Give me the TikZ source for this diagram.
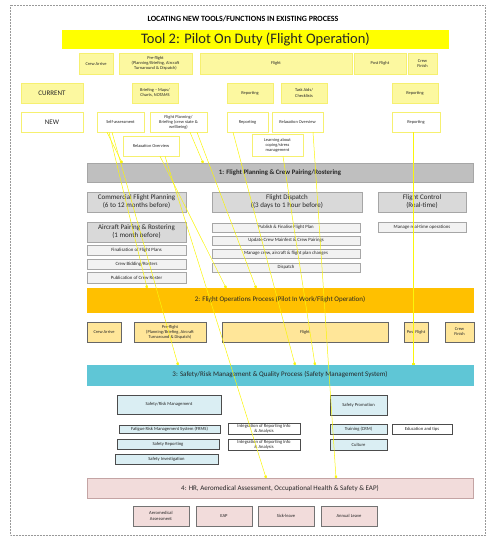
\documentclass[tikz,border=0pt]{standalone}
\usepackage{fontspec}
\setmainfont{Carlito}
\usetikzlibrary{arrows.meta}
\newcommand\fsz[1]{\fontsize{#1}{#1}\selectfont\setlength\baselineskip{1.15\baselineskip}}

\definecolor{banner}{HTML}{FFFF00}
\definecolor{phasefill}{HTML}{FCF8A0}
\definecolor{phaseline}{HTML}{F6F070}
\definecolor{bandgray}{HTML}{BFBFBF}
\definecolor{gbox}{HTML}{D9D9D9}
\definecolor{gitem}{HTML}{F2F2F2}
\definecolor{gline}{HTML}{A6A6A6}
\definecolor{bandorange}{HTML}{FFC000}
\definecolor{opfill}{HTML}{FFE699}
\definecolor{bandcyan}{HTML}{5FC6D6}
\definecolor{cfill}{HTML}{DAEEF3}
\definecolor{bandpink}{HTML}{F2DCDB}
\definecolor{pline}{HTML}{C4A4A4}
\definecolor{linkyellow}{HTML}{FAF50A}

\tikzset{
  box/.style={draw, inner sep=0pt, align=center, text=black!85},
  phase/.style={box, fill=phasefill, draw=phaseline, font=\fsz{4.4}},
  newbox/.style={box, fill=white, draw=phaseline, font=\fsz{4.4}},
  band/.style={box, minimum width=386pt, font=\fsz{7}},
  plan/.style={box, fill=gbox, draw=gline, font=\fsz{7}},
  planitem/.style={box, fill=gitem, draw=gline, font=\fsz{4.8}},
  ophase/.style={box, fill=opfill, draw=black!60, font=\fsz{4.4}},
  safety/.style={box, fill=cfill, draw=black!70, font=\fsz{4.6}},
  whitebox/.style={box, fill=white, draw=black!70, font=\fsz{4.6}},
  hrbox/.style={box, fill=bandpink, draw=black!55, font=\fsz{4.6}},
  link/.style={draw=linkyellow, line width=0.5pt, -{Square[length=2.2pt,width=2.2pt]}},
}

\begin{document}
\begin{tikzpicture}[x=1pt, y=-1pt]
\useasboundingbox (0,0) rectangle (495,550);
\draw[black!40, densely dotted, line width=0.5pt] (10,5) rectangle (485,535);

% header
\node[font=\fsz{8}\bfseries] (title) at (243,19) {LOCATING NEW TOOLS/FUNCTIONS IN EXISTING PROCESS};
\node[box, draw=none, fill=banner, minimum width=387pt, minimum height=19pt, font=\fsz{14.5}] (tool) at (255.5,39.5) {Tool 2: Pilot On Duty (Flight Operation)};

\node[phase, minimum width=34pt, minimum height=21pt] (ph1) at (96,63.5) {Crew Arrive};
\node[phase, minimum width=73pt, minimum height=21pt] (ph2) at (155.5,63.5) {Pre-flight\\(Planning/Briefing, Aircraft\\Turnaround \& Dispatch)};
\node[phase, minimum width=152pt, minimum height=21pt] (ph3) at (276,63.5) {Flight};
\node[phase, minimum width=52pt, minimum height=21pt] (ph4) at (380,63.5) {Post Flight};
\node[phase, minimum width=29pt, minimum height=21pt] (ph5) at (422.5,63.5) {Crew\\Finish};

% current and new
\node[phase, minimum width=62pt, minimum height=20pt, font=\fsz{7}] (current) at (52,93) {CURRENT};
\node[phase, minimum width=46pt, minimum height=20pt] (brief) at (155,93) {Briefing -- Maps/\\Charts, NOTAMS};
\node[phase, minimum width=46pt, minimum height=20pt] (curep) at (250,93) {Reporting};
\node[phase, minimum width=46pt, minimum height=20pt] (aids) at (304,93) {Task Aids/\\Checklists};
\node[phase, minimum width=46pt, minimum height=20pt] (curep2) at (415,93) {Reporting};

\node[newbox, minimum width=62pt, minimum height=20pt, font=\fsz{7}] (new) at (52,122) {NEW};
\node[newbox, minimum width=47pt, minimum height=20pt] (self) at (120.5,122) {Self-assessment};
\node[newbox, minimum width=57pt, minimum height=20pt] (fpb) at (178.5,122) {Flight Planning/\\Briefing (crew state \&\\wellbeing)};
\node[newbox, minimum width=41pt, minimum height=20pt] (rep) at (247.5,122) {Reporting};
\node[newbox, minimum width=51pt, minimum height=20pt] (relaxa) at (297.5,122) {Relaxation Overview};
\node[newbox, minimum width=48pt, minimum height=20pt] (rep2) at (416,122) {Reporting};
\node[newbox, minimum width=56pt, minimum height=20pt] (relaxb) at (151,146) {Relaxation Overview};
\node[newbox, minimum width=51pt, minimum height=22pt] (learn) at (277.5,145) {Learning about\\coping/stress\\management};

% 1: planning
\node[band, fill=bandgray, draw=gline, minimum height=19pt, font=\fsz{6.8}\bfseries] (band1) at (280,172.5) {1: Flight Planning \& Crew Pairing/Rostering};
\node[plan, minimum width=99pt, minimum height=20pt] (cfp) at (136.5,202) {Commercial Flight Planning\\(6 to 12 months before)};
\node[plan, minimum width=99pt, minimum height=20pt] (apr) at (136.5,232) {Aircraft Pairing \& Rostering\\(1 month before)};
\node[planitem, minimum width=99pt, minimum height=10pt] (fin) at (136.5,250) {Finalisation of Flight Plans};
\node[planitem, minimum width=99pt, minimum height=10pt] (bid) at (136.5,264) {Crew Bidding/Rosters};
\node[planitem, minimum width=99pt, minimum height=11pt] (pub) at (136.5,277.5) {Publication of Crew Roster};
\node[plan, minimum width=150pt, minimum height=20pt] (fd) at (287,202) {Flight Dispatch\\((3 days to 1 hour before)};
\node[planitem, minimum width=148pt, minimum height=9pt] (pff) at (286,227.5) {Publish \& Finalise Flight Plan};
\node[planitem, minimum width=148pt, minimum height=9pt] (ucm) at (286,240.5) {Update Crew Mainfest \& Crew Pairings};
\node[planitem, minimum width=148pt, minimum height=9pt] (mcc) at (286,253.5) {Manage crew, aircraft \& flight plan changes};
\node[planitem, minimum width=148pt, minimum height=9pt] (disp) at (286,267.5) {Dispatch};
\node[plan, minimum width=88pt, minimum height=20pt] (fc) at (422,202) {Flight Control\\(Real-time)};
\node[planitem, minimum width=88pt, minimum height=10pt] (mro) at (422,227) {Manage real-time operations};

% 2: flight operations
\node[band, fill=bandorange, draw=bandorange, minimum height=24pt] (band2) at (280,300) {2: Flight Operations Process (Pilot In Work/Flight Operation)};
\node[ophase, minimum width=34pt, minimum height=20pt] (op1) at (104,332) {Crew Arrive};
\node[ophase, minimum width=72pt, minimum height=20pt] (op2) at (170,332) {Pre-flight\\(Planning/Briefing, Aircraft\\Turnaround \& Dispatch)};
\node[ophase, minimum width=166pt, minimum height=20pt] (op3) at (305,332) {Flight};
\node[ophase, minimum width=24pt, minimum height=20pt] (op4) at (416,332) {Post Flight};
\node[ophase, minimum width=29pt, minimum height=20pt] (op5) at (459.5,332) {Crew\\Finish};

% 3: safety
\node[band, fill=bandcyan, draw=bandcyan, minimum height=20pt] (band3) at (280,375) {3: Safety/Risk Management \& Quality Process (Safety Management System)};
\node[safety, minimum width=104pt, minimum height=19pt] (srm) at (169,404.5) {Safety/Risk Management};
\node[safety, minimum width=101pt, minimum height=8pt] (frms) at (169.5,429) {Fatigue Risk Management System (FRMS)};
\node[safety, minimum width=102pt, minimum height=10pt] (srep) at (168,444) {Safety Reporting};
\node[safety, minimum width=103pt, minimum height=10pt] (sinv) at (166.5,459) {Safety Investigation};
\node[whitebox, minimum width=72pt, minimum height=11pt] (intega) at (264,428.5) {Integration of Reporting Info\\\& Analysis};
\node[whitebox, minimum width=72pt, minimum height=11pt] (integb) at (264,444.5) {Integration of Reporting Info\\\& Analysis};
\node[safety, minimum width=57pt, minimum height=20pt] (sprom) at (358.5,405) {Safety Promotion};
\node[safety, minimum width=57pt, minimum height=10pt] (crm) at (358.5,429) {Training (CRM)};
\node[safety, minimum width=57pt, minimum height=11pt] (cult) at (358.5,444.5) {Culture};
\node[whitebox, minimum width=60pt, minimum height=10pt] (edu) at (422,429) {Education and tips};

% 4: hr
\node[band, fill=bandpink, draw=pline, minimum height=20pt] (band4) at (280,488) {4: HR, Aeromedical Assessment, Occupational Health \& Safety \& EAP)};
\node[hrbox, minimum width=56pt, minimum height=20pt] (aero) at (161,516) {Aeromedical\\Assessment};
\node[hrbox, minimum width=56pt, minimum height=20pt] (eap) at (224,516) {EAP};
\node[hrbox, minimum width=56pt, minimum height=20pt] (sick) at (286,516) {Sick-leave};
\node[hrbox, minimum width=56pt, minimum height=20pt] (annual) at (349,516) {Annual Leave};

% where the new tools go
\draw[link] (107,0 |- self.south) -- (122,0 |- band1.north);
\draw[link] (109,0 |- self.south) -- (147,0 |- band2.north);
\draw[link] (112,0 |- self.south) -- (178,0 |- band3.north);
\draw[link] (190,0 |- fpb.south) -- (203,0 |- band1.north);
\draw[link] (197,0 |- fpb.south) -- (256,0 |- band2.north);
\draw[link] (160,0 |- relaxb.south) -- (226,0 |- band2.north);
\draw[link] (165,0 |- relaxb.south) -- (266,0 |- band4.north);
\draw[link] (233,0 |- rep.south) -- (295,0 |- band3.north);
\draw[link] (283,0 |- learn.south) -- (315,0 |- band3.north);
\draw[link] (313,0 |- relaxa.south) -- (336,0 |- band4.north);
\draw[link] (413,0 |- rep2.south) -- (413,0 |- band3.north);

\end{tikzpicture}
\end{document}
